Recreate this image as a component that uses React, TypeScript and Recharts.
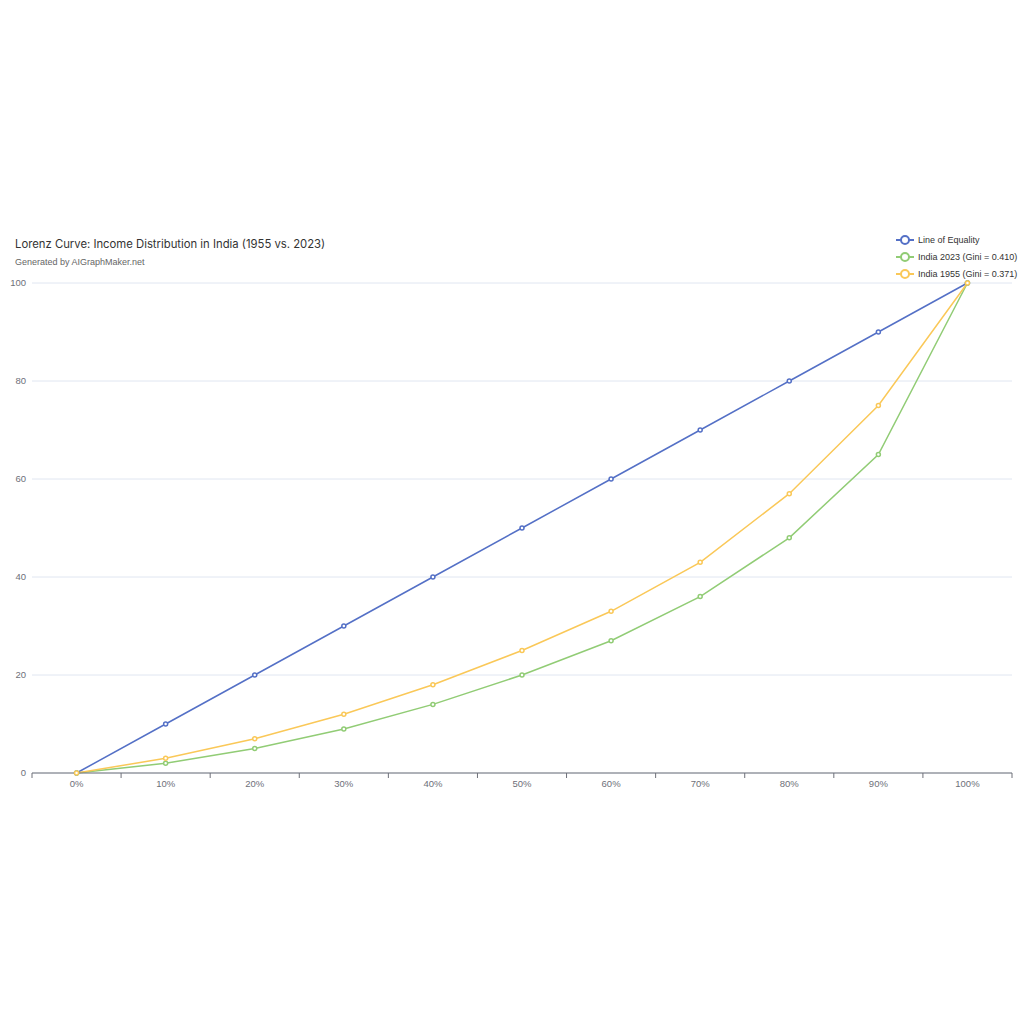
import React from 'react';
import { LineChart, Line, XAxis, YAxis, CartesianGrid } from 'recharts';

const categories = ['0%', '10%', '20%', '30%', '40%', '50%', '60%', '70%', '80%', '90%', '100%'];
const equality = [0, 10, 20, 30, 40, 50, 60, 70, 80, 90, 100];
const india2023 = [0, 2, 5, 9, 14, 20, 27, 36, 48, 65, 100];
const india1955 = [0, 3, 7, 12, 18, 25, 33, 43, 57, 75, 100];
const yTicks = [0, 20, 40, 60, 80, 100];

const seriesInfo = [
  { key: 'equality', name: 'Line of Equality', color: '#5470c6' },
  { key: 'india2023', name: 'India 2023 (Gini = 0.410)', color: '#91cc75' },
  { key: 'india1955', name: 'India 1955 (Gini = 0.371)', color: '#fac858' },
];

const data = categories.map((c, i) => ({
  label: c,
  equality: equality[i],
  india2023: india2023[i],
  india1955: india1955[i],
}));

const W = 1024;
const H = 1024;
const LEFT = 32;
const RIGHT = 12;
const BAND = (W - LEFT - RIGHT) / categories.length;
const FONT = '"Helvetica Neue", Arial, "Liberation Sans", sans-serif';

const XTick = (props: any) => {
  const { x, y, payload, index } = props;
  const last = index === categories.length - 1;
  return (
    <g>
      <line x1={x - BAND / 2} x2={x - BAND / 2} y1={y} y2={y + 5} stroke="#6e7079" />
      {last && <line x1={x + BAND / 2} x2={x + BAND / 2} y1={y} y2={y + 5} stroke="#6e7079" />}
      <text x={x} y={y + 14} textAnchor="middle" fill="#6e7079" fontSize={9.5} fontFamily={FONT}>
        {payload.value}
      </text>
    </g>
  );
};

const App: React.FC = () => {
  return (
    <div style={{ position: 'absolute', left: 0, top: 0, width: W, height: H, background: '#fff' }}>
      <div style={{ position: 'absolute', left: 15, top: 237, fontFamily: 'Inter, sans-serif', fontSize: 11.3, color: '#333' }}>
        Lorenz Curve: Income Distribution in India (1955 vs. 2023)
      </div>
      <div style={{ position: 'absolute', left: 15, top: 257, fontFamily: FONT, fontSize: 9, color: '#666' }}>
        Generated by AIGraphMaker.net
      </div>
      <div style={{ position: 'absolute', left: 896, top: 231, fontFamily: FONT, fontSize: 9, color: '#333' }}>
        {seriesInfo.map((s) => (
          <div key={s.key} style={{ display: 'flex', alignItems: 'center', height: 17 }}>
            <svg width={18} height={12} style={{ marginRight: 4 }}>
              <line x1={0} x2={18} y1={6} y2={6} stroke={s.color} strokeWidth={2} />
              <circle cx={9} cy={6} r={4} fill="#fff" stroke={s.color} strokeWidth={2} />
            </svg>
            <span>{s.name}</span>
          </div>
        ))}
      </div>
      <LineChart
        width={W}
        height={H}
        data={data}
        margin={{ top: 283, right: RIGHT, bottom: 221, left: 0 }}
      >
        <CartesianGrid vertical={false} stroke="#e0e6f1" />
        <XAxis
          dataKey="label"
          scale="band"
          height={30}
          tickSize={0}
          tickMargin={0}
          tickLine={false}
          axisLine={{ stroke: '#6e7079' }}
          tick={<XTick />}
          interval={0}
        />
        <YAxis
          width={LEFT}
          domain={[0, 100]}
          ticks={yTicks}
          axisLine={false}
          tickLine={false}
          tickMargin={0}
          tick={{ fill: '#6e7079', fontSize: 9.5, fontFamily: FONT }}
        />
        {seriesInfo.map((s) => (
          <Line
            key={s.key}
            dataKey={s.key}
            name={s.name}
            type="linear"
            stroke={s.color}
            strokeWidth={1.5}
            dot={{ r: 2, fill: '#fff', stroke: s.color, strokeWidth: 1.5 }}
            isAnimationActive={false}
          />
        ))}
      </LineChart>
    </div>
  );
};

export default App;
